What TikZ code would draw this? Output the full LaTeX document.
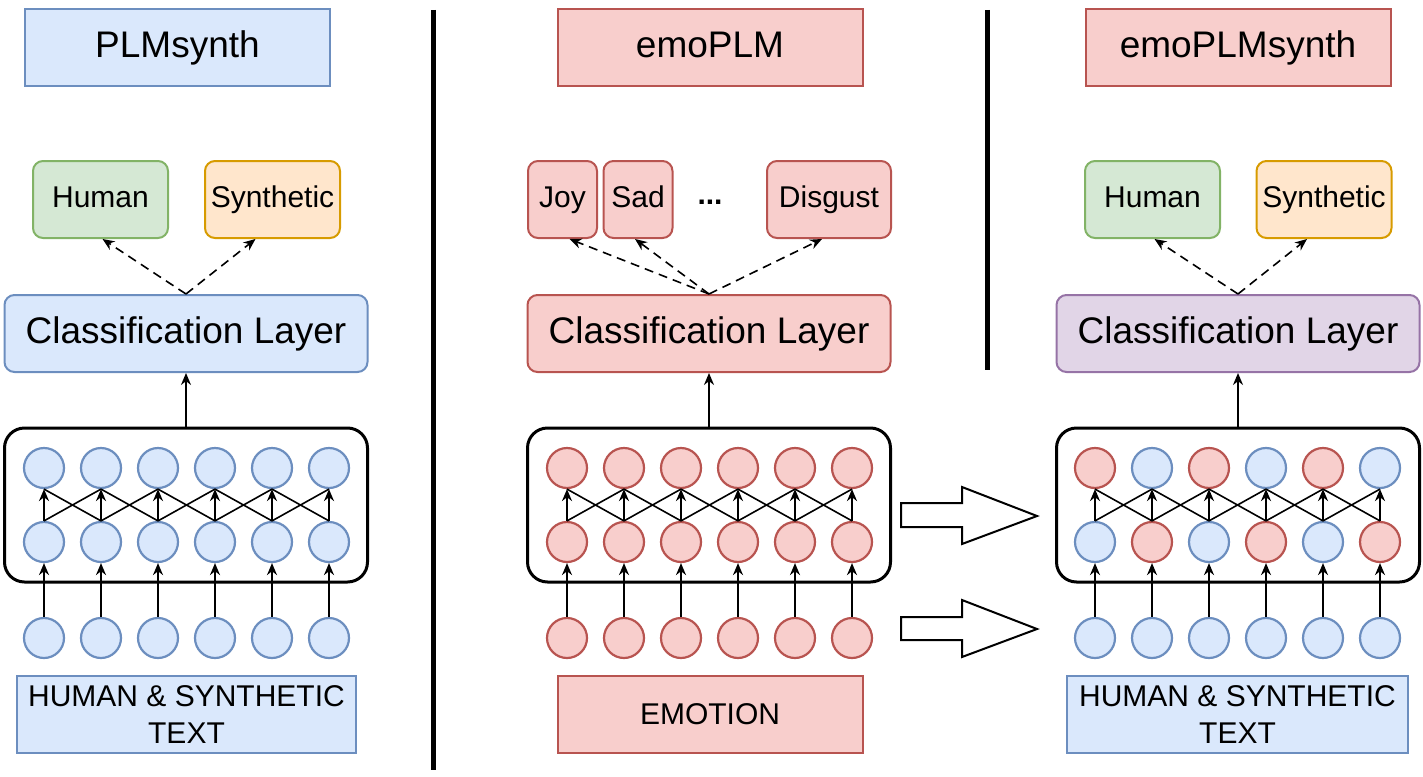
\documentclass[tikz,border=0pt]{standalone}
\usepackage{fontspec}
\setmainfont{Liberation Sans}
\usetikzlibrary{arrows.meta}
\definecolor{bfill}{HTML}{DAE8FC}\definecolor{bdraw}{HTML}{6C8EBF}
\definecolor{rfill}{HTML}{F8CECC}\definecolor{rdraw}{HTML}{B85450}
\definecolor{gfill}{HTML}{D5E8D4}\definecolor{gdraw}{HTML}{82B366}
\definecolor{ofill}{HTML}{FFE6CC}\definecolor{odraw}{HTML}{D79B00}
\definecolor{pfill}{HTML}{E1D5E7}\definecolor{pdraw}{HTML}{9673A6}
\tikzset{
  bstyle/.style={fill=bfill,draw=bdraw},
  rstyle/.style={fill=rfill,draw=rdraw},
  gstyle/.style={fill=gfill,draw=gdraw},
  ostyle/.style={fill=ofill,draw=odraw},
  pstyle/.style={fill=pfill,draw=pdraw},
  titlebox/.style={line width=2pt,inner sep=0pt,minimum width=305pt,minimum height=77pt,font=\fontsize{37}{44}\selectfont,text height=27pt,text depth=7pt},
  textbox/.style={line width=2pt,inner sep=0pt,minimum height=77pt,align=center,font=\fontsize{30}{37}\selectfont},
  classbox/.style={line width=2pt,inner sep=0pt,rounded corners=10pt,minimum width=363pt,minimum height=77pt,font=\fontsize{37}{44}\selectfont,text height=27pt,text depth=7pt},
  outbox/.style={line width=2pt,inner sep=0pt,rounded corners=10pt,minimum height=77pt,font=\fontsize{30}{36}\selectfont,text height=22pt,text depth=6pt},
  netbox/.style={draw=black,line width=3pt,rounded corners=20pt,inner sep=0pt,minimum width=363pt,minimum height=154pt},
  neur/.style={circle,line width=2.2pt,inner sep=0pt,minimum size=40pt},
  arr/.style={line width=1.8pt,-{Stealth[length=12pt,width=10pt]}},
  link/.style={line width=1.6pt},
  dasharr/.style={line width=1.6pt,dash pattern=on 9pt off 6pt,-{Stealth[length=12pt,width=10pt]}},
  divider/.style={line width=5pt},
  hollow/.style={draw=black,line width=2pt,fill=white,line join=miter}
}
\begin{document}
\begin{tikzpicture}[x=1pt,y=-1pt]
\useasboundingbox (0,0) rectangle (1423,776);
% dividers
\draw[divider] (433,10) -- (433,770);
\draw[divider] (987,10) -- (987,370);

% ===== Panel 1 =====
\node[titlebox,bstyle] (t1) at (177.5,47.5) {PLMsynth};
\node[outbox,gstyle,minimum width=135pt] (h1) at (100.5,199.5) {Human};
\node[outbox,ostyle,minimum width=135pt] (s1) at (272.5,199.5) {Synthetic};
\node[classbox,bstyle] (c1) at (186,333.5) {Classification Layer};
\node[netbox] (n1) at (186,505) {};
\node[textbox,bstyle,minimum width=339pt] (x1) at (186.5,714.5) {HUMAN \& SYNTHETIC\\TEXT};
\foreach \i in {1,...,6}{
  \pgfmathsetmacro{\xx}{44+57*(\i-1)}
  \node[neur,bstyle] (p1t\i) at (\xx,468) {};
  \node[neur,bstyle] (p1b\i) at (\xx,542) {};
  \node[neur,bstyle] (p1i\i) at (\xx,638) {};
}
\draw[dasharr] (c1.north) -- ([xshift=2pt]h1.south);
\draw[dasharr] (c1.north) -- ([xshift=-17pt]s1.south);
\draw[arr] (n1.north) -- (c1.south);

% ===== Panel 2 =====
\node[titlebox,rstyle] (t2) at (710,47.5) {emoPLM};
\node[outbox,rstyle,minimum width=69pt] (j2) at (562.5,199.5) {Joy};
\node[outbox,rstyle,minimum width=69pt] (d2) at (638,199.5) {Sad};
\node[font=\fontsize{30}{36}\selectfont\bfseries] (e2) at (710,202) {...};
\node[outbox,rstyle,minimum width=124pt] (g2) at (829,199.5) {Disgust};
\node[classbox,rstyle] (c2) at (709,333.5) {Classification Layer};
\node[netbox] (n2) at (709,505) {};
\node[textbox,rstyle,minimum width=305pt] (x2) at (710,714.5) {EMOTION};
\foreach \i in {1,...,6}{
  \pgfmathsetmacro{\xx}{567+57*(\i-1)}
  \node[neur,rstyle] (p2t\i) at (\xx,468) {};
  \node[neur,rstyle] (p2b\i) at (\xx,542) {};
  \node[neur,rstyle] (p2i\i) at (\xx,638) {};
}
\draw[dasharr] (c2.north) -- ([xshift=7pt]j2.south);
\draw[dasharr] (c2.north) -- ([xshift=-3pt]d2.south);
\draw[dasharr] (c2.north) -- ([xshift=-7pt]g2.south);
\draw[arr] (n2.north) -- (c2.south);

% ===== Panel 3 =====
\node[titlebox,rstyle] (t3) at (1238,47.5) {emoPLMsynth};
\node[outbox,gstyle,minimum width=135pt] (h3) at (1152.5,199.5) {Human};
\node[outbox,ostyle,minimum width=135pt] (s3) at (1324,199.5) {Synthetic};
\node[classbox,pstyle] (c3) at (1238,333.5) {Classification Layer};
\node[netbox] (n3) at (1238,505) {};
\node[textbox,bstyle,minimum width=341pt] (x3) at (1237.5,714.5) {HUMAN \& SYNTHETIC\\TEXT};
\foreach \i in {1,...,6}{
  \pgfmathsetmacro{\xx}{1095+57*(\i-1)}
  \ifodd\i
    \node[neur,rstyle] (p3t\i) at (\xx,468) {};
    \node[neur,bstyle] (p3b\i) at (\xx,542) {};
  \else
    \node[neur,bstyle] (p3t\i) at (\xx,468) {};
    \node[neur,rstyle] (p3b\i) at (\xx,542) {};
  \fi
  \node[neur,bstyle] (p3i\i) at (\xx,638) {};
}
\draw[dasharr] (c3.north) -- ([xshift=2pt]h3.south);
\draw[dasharr] (c3.north) -- ([xshift=-17pt]s3.south);
\draw[arr] (n3.north) -- (c3.south);

% ===== network connections =====
\foreach \p in {1,2,3}{
  \foreach \i in {1,...,6}{
    \draw[arr] (p\p b\i.north) -- (p\p t\i.south);
    \draw[arr] (p\p i\i.north) -- (p\p b\i.south);
  }
  \foreach \i/\j in {1/2,2/3,3/4,4/5,5/6}{
    \draw[link] (p\p b\i.north) -- (p\p t\j.south);
    \draw[link] (p\p b\j.north) -- (p\p t\i.south);
  }
}

% hollow transfer arrows
\draw[hollow] (901,503) -- (962,503) -- (962,487) -- (1037,516) -- (962,544) -- (962,527) -- (901,527) -- cycle;
\draw[hollow] (901,617) -- (962,617) -- (962,600) -- (1037,629) -- (962,657) -- (962,640) -- (901,640) -- cycle;
\end{tikzpicture}
\end{document}
